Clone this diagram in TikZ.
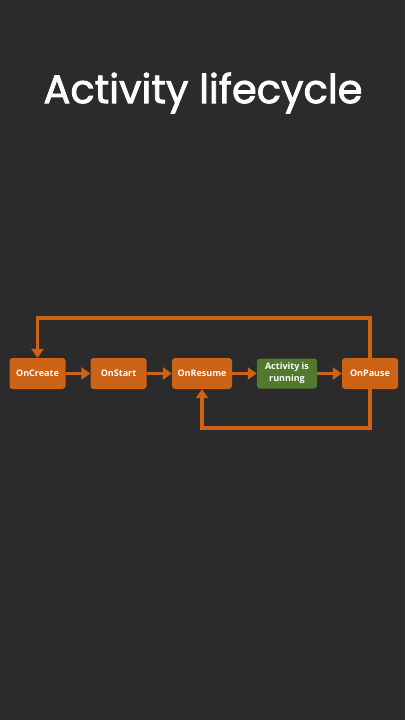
\documentclass[tikz,border=0pt]{standalone}
\usepackage{fontspec}
\setmainfont{Open Sans}
\newfontfamily\titlefont[FakeBold=2]{Poppins}
\usetikzlibrary{arrows.meta}
\definecolor{bg}{HTML}{2B2B2B}
\definecolor{orng}{HTML}{CD6316}
\definecolor{grn}{HTML}{527A2E}
\tikzset{
  x=1pt,y=-1pt,
  stepbox/.style={fill=orng, rounded corners=3pt, minimum width=56pt, minimum height=31pt, inner sep=1pt, text=white, font=\fontsize{9}{12}\selectfont\bfseries, align=center},
  runbox/.style={stepbox, fill=grn, minimum width=60pt, minimum height=30pt},
  flow/.style={draw=orng, line width=3.5pt, -{Triangle[width=12pt,length=9pt]}},
}
\begin{document}
\begin{tikzpicture}
\useasboundingbox[fill=bg] (0,0) rectangle (405,720);
\node[text=white, font=\titlefont\fontsize{40}{46}\selectfont] (title) at (203,93) {Activity lifecycle};
\node[stepbox] (create) at (37.5,373.5) {OnCreate};
\node[stepbox] (start) at (118.5,373.5) {OnStart};
\node[stepbox, minimum width=60pt] (resume) at (202,373.5) {OnResume};
\node[runbox] (run) at (287,373.5) {Activity is\\running};
\node[stepbox] (pause) at (370,373.5) {OnPause};
\coordinate (tr) at (370,318);
\coordinate (tl) at (37.5,318);
\coordinate (br) at (370,428);
\coordinate (bl) at (202,428);
\draw[flow] (create) -- (start);
\draw[flow] (start) -- (resume);
\draw[flow] (resume) -- (run);
\draw[flow] (run) -- (pause);
\draw[flow] (pause.north) -- (tr) -- (tl) -- (create.north);
\draw[flow] (pause.south) -- (br) -- (bl) -- (resume.south);
\end{tikzpicture}
\end{document}
